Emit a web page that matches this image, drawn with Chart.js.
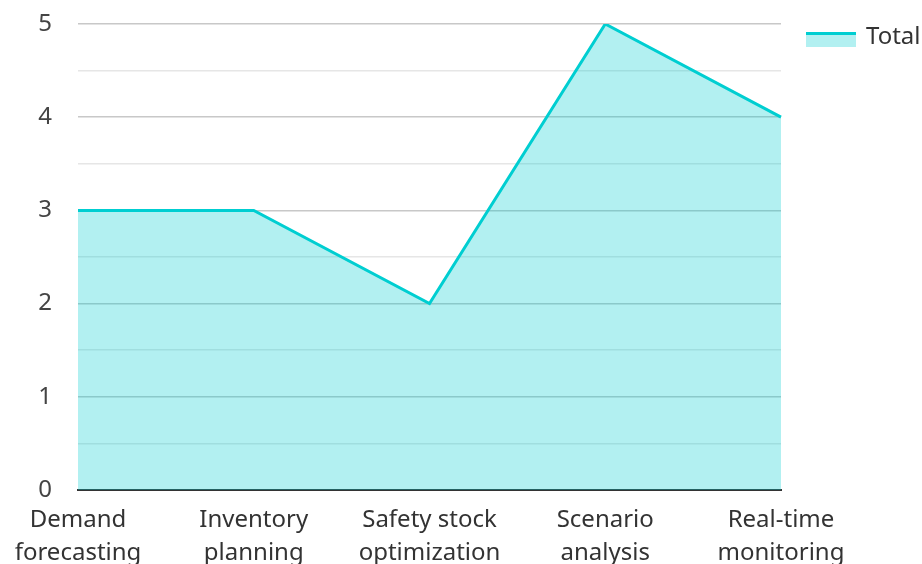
<!DOCTYPE html>
<html>
<head>
<meta charset="utf-8">
<script src="https://cdn.jsdelivr.net/npm/chart.js@4"></script>
<style>
  body { margin: 0; overflow: hidden; background: #fff; }
  #wrap { position: relative; width: 922px; height: 564px; overflow: hidden; }
  #legend-box { position: absolute; left: 806px; top: 32px; width: 50px; height: 12px; border-top: 3px solid rgb(0,206,209); background: rgba(0,206,209,0.3); }
  #legend-text { position: absolute; left: 866px; top: 18px; font: 24px "Noto Sans"; color: #333; }
</style>
</head>
<body>
<div id="wrap">
  <canvas id="myChart" width="922" height="600"></canvas>
  <div id="legend-box"></div>
  <div id="legend-text">Total</div>
</div>
<script>
var categories = [
  ['Demand', 'forecasting'],
  ['Inventory', 'planning'],
  ['Safety stock', 'optimization'],
  ['Scenario', 'analysis'],
  ['Real-time', 'monitoring']
];
var totalValues = [3, 3, 2, 5, 4];
var yMin = 0;
var yMax = 5;

const ctx = document.getElementById('myChart');
new Chart(ctx, {
  type: 'line',
  data: {
    labels: categories,
    datasets: [{
      label: 'Total',
      data: totalValues,
      borderColor: 'rgb(0, 206, 209)',
      backgroundColor: 'rgba(0, 206, 209, 0.3)',
      borderWidth: 3,
      fill: 'origin',
      tension: 0,
      pointRadius: 0
    }]
  },
  options: {
    responsive: false,
    animation: false,
    layout: { padding: { top: 24, right: 141, left: 0, bottom: 0 } },
    plugins: {
      legend: { display: false },
      tooltip: { enabled: false }
    },
    scales: {
      x: {
        offset: false,
        grid: { display: false, drawTicks: false },
        border: { display: true, color: '#333', width: 2 },
        ticks: {
          color: '#333',
          padding: 13,
          maxRotation: 0,
          autoSkip: false,
          font: { family: 'Noto Sans', size: 24, lineHeight: 1.4 }
        },
        afterFit: function(axis) { axis.height = 110; }
      },
      y: {
        min: yMin,
        max: yMax,
        grid: {
          drawTicks: true,
          tickLength: 24,
          tickColor: 'rgba(0,0,0,0)',
          color: function(c) { return Number.isInteger(c.tick.value) ? '#c8c8c8' : '#e6e6e6'; },
          lineWidth: function(c) { return c.tick.value === 0 ? 0 : 1.5; }
        },
        border: { display: false },
        ticks: {
          stepSize: 0.5,
          color: '#444',
          padding: 2,
          font: { family: 'Noto Sans', size: 24 },
          callback: function(v) { return Number.isInteger(v) ? v : ''; }
        },
        afterFit: function(axis) { axis.width = 78; }
      }
    }
  }
});
</script>
</body>
</html>
